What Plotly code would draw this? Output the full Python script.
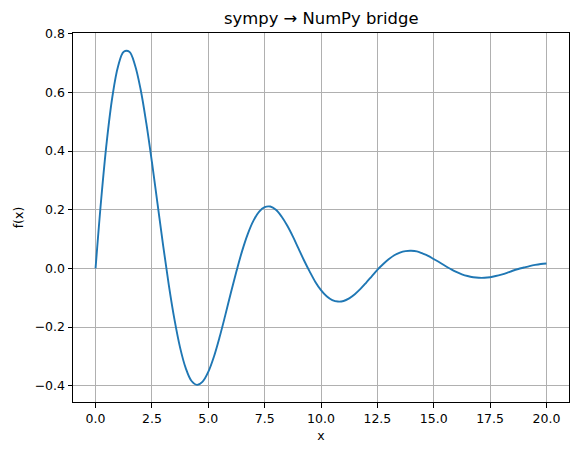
import plotly.graph_objects as go

x_vals = [i * 0.25 for i in range(81)]
f_vals = [
    0.000, 0.235, 0.434, 0.587, 0.689, 0.739, 0.739, 0.693, 0.610, 0.496,
    0.363, 0.220, 0.077, -0.057, -0.174, -0.270, -0.340, -0.383, -0.397, -0.386,
    -0.353, -0.301, -0.235, -0.161, -0.084, -0.010, 0.059, 0.117, 0.162, 0.193,
    0.209, 0.211, 0.200, 0.177, 0.146, 0.109, 0.068, 0.027, -0.011, -0.046,
    -0.074, -0.095, -0.108, -0.113, -0.111, -0.102, -0.088, -0.070, -0.049, -0.027,
    -0.005, 0.014, 0.031, 0.045, 0.054, 0.059, 0.060, 0.058, 0.051, 0.043,
    0.032, 0.021, 0.009, -0.002, -0.012, -0.020, -0.026, -0.030, -0.032, -0.032,
    -0.030, -0.026, -0.021, -0.015, -0.008, -0.002, 0.003, 0.008, 0.012, 0.015,
    0.017,
]
x_ticks = [0.0, 2.5, 5.0, 7.5, 10.0, 12.5, 15.0, 17.5, 20.0]
y_ticks = [-0.4, -0.2, 0.0, 0.2, 0.4, 0.6, 0.8]

font = "DejaVu Sans"

fig = go.Figure(go.Scatter(
    x=x_vals, y=f_vals, mode="lines",
    line=dict(color="#1f77b4", width=1.9, shape="spline"),
))

axis_common = dict(
    showline=True, linecolor="black", linewidth=1, mirror=True,
    ticks="outside", ticklen=4.5, tickwidth=1, tickcolor="black",
    showgrid=True, gridcolor="#b0b0b0", gridwidth=1, zeroline=False,
    tickfont=dict(family=font, size=12.5, color="black"),
    tickformat=".1f", automargin=False,
)

fig.update_layout(
    width=578, height=455,
    margin=dict(l=73, r=8.5, t=32.5, b=52.7, autoexpand=False),
    paper_bgcolor="white", plot_bgcolor="white",
    showlegend=False,
    title=dict(text="sympy → NumPy bridge", x=0.5 * (73 + 569.5) / 578, xanchor="center",
               y=1 - 18.5 / 455, yanchor="middle", automargin=False,
               font=dict(family=font, size=16.4, color="black")),
    xaxis=dict(range=[-1, 21], tickvals=x_ticks,
               title=dict(text="x", font=dict(family=font, size=12.5, color="black"), standoff=6),
               **axis_common),
    yaxis=dict(range=[-0.4555, 0.8027], tickvals=y_ticks,
               title=dict(text="f(x)", font=dict(family=font, size=12.5, color="black"), standoff=8),
               **axis_common),
)

fig.write_html(
    "out.html",
    config={"displayModeBar": False},
    post_script="document.body.style.margin='0';document.body.style.padding='0';",
)
